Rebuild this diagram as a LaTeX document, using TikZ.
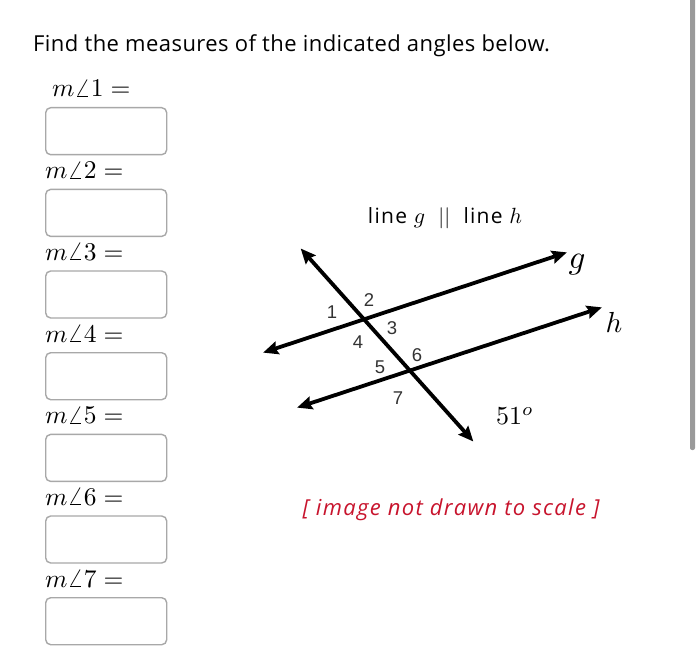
\documentclass[tikz,border=0pt]{standalone}
\usepackage{graphicx}
\usepackage{fontspec}
\setmainfont{Open Sans}
\usetikzlibrary{arrows.meta}
\newfontfamily\numfont{Liberation Sans}
\definecolor{boxgray}{HTML}{A8A8A8}
\definecolor{scrollgray}{HTML}{9A9A9A}
\definecolor{numgray}{HTML}{333333}
\definecolor{warnred}{HTML}{C8142D}
\newcommand{\bigmath}[2]{\scalebox{#1}{\fontsize{10}{12}\selectfont$#2$}}
\begin{document}
\begin{tikzpicture}[x=1pt,y=-1pt,
  ansbox/.style={draw=boxgray,line width=1.4pt,rounded corners=5pt,minimum width=121pt,minimum height=47pt,inner sep=0pt,anchor=north west},
  anglabel/.style={anchor=base west,inner sep=0pt},
  numlab/.style={font=\numfont\fontsize{18.5}{20}\selectfont,text=numgray,inner sep=0pt},
  geoline/.style={line width=3.8pt,{Stealth[length=15pt,width=13pt,inset=2pt]}-{Stealth[length=15pt,width=13pt,inset=2pt]},shorten <=-2pt,shorten >=-2pt}
]
\useasboundingbox (0,0) rectangle (700,652);
\fill[white] (0,0) rectangle (700,652);
% scrollbar
\fill[scrollgray,rounded corners=2pt] (690,-4) rectangle (695,450);
% title
\node[anchor=base west,inner sep=0pt,font=\fontsize{22}{26}\selectfont\addfontfeatures{LetterSpace=2}] (title) at (33,52) {Find the measures of the indicated angles below.};
% answer labels and boxes
\node[anglabel] (l1) at (52,97) {\bigmath{2.55}{m\angle 1 =}};
\node[ansbox] (b1) at (45,107) {};
\node[anglabel] (l2) at (45,179) {\bigmath{2.55}{m\angle 2 =}};
\node[ansbox] (b2) at (45,188.7) {};
\node[anglabel] (l3) at (45,260.3) {\bigmath{2.55}{m\angle 3 =}};
\node[ansbox] (b3) at (45,270.3) {};
\node[anglabel] (l4) at (45,342) {\bigmath{2.55}{m\angle 4 =}};
\node[ansbox] (b4) at (45,352) {};
\node[anglabel] (l5) at (45,423.7) {\bigmath{2.55}{m\angle 5 =}};
\node[ansbox] (b5) at (45,433.7) {};
\node[anglabel] (l6) at (45,505.3) {\bigmath{2.55}{m\angle 6 =}};
\node[ansbox] (b6) at (45,515.3) {};
\node[anglabel] (l7) at (45,587) {\bigmath{2.55}{m\angle 7 =}};
\node[ansbox] (b7) at (45,597) {};
% diagram heading
\node[anchor=base,inner sep=0pt,font=\fontsize{21}{24}\selectfont\addfontfeatures{LetterSpace=6}] (head) at (445,223) {line \bigmath{2.2}{g} \ \bigmath{2.1}{||} \ line \bigmath{2.2}{h}};
% line endpoints
\coordinate (tA) at (302,250);
\coordinate (tB) at (472,440);
\coordinate (gA) at (265,352);
\coordinate (gB) at (565,253);
\coordinate (hA) at (299,407);
\coordinate (hB) at (600,308);
\draw[geoline] (gA) -- (gB);
\draw[geoline] (hA) -- (hB);
\draw[geoline] (tA) -- (tB);
% line names
\node[inner sep=0pt] (gname) at (577,265) {\bigmath{3.3}{g}};
\node[inner sep=0pt] (hname) at (614,322) {\bigmath{2.9}{h}};
% angle numbers
\node[numlab] (n1) at (332,312) {1};
\node[numlab] (n2) at (369,300) {2};
\node[numlab] (n3) at (392,328) {3};
\node[numlab] (n4) at (358,342) {4};
\node[numlab] (n5) at (380,367) {5};
\node[numlab] (n6) at (417,355) {6};
\node[numlab] (n7) at (398,398) {7};
% given angle
\node[inner sep=0pt] (given) at (515,416) {\bigmath{2.6}{51^o}};
% note
\node[anchor=base,inner sep=0pt,font=\itshape\fontsize{22}{24}\selectfont\addfontfeatures{LetterSpace=6},text=warnred] (note) at (451,515) {[ image not drawn to scale ]};
\end{tikzpicture}
\end{document}
